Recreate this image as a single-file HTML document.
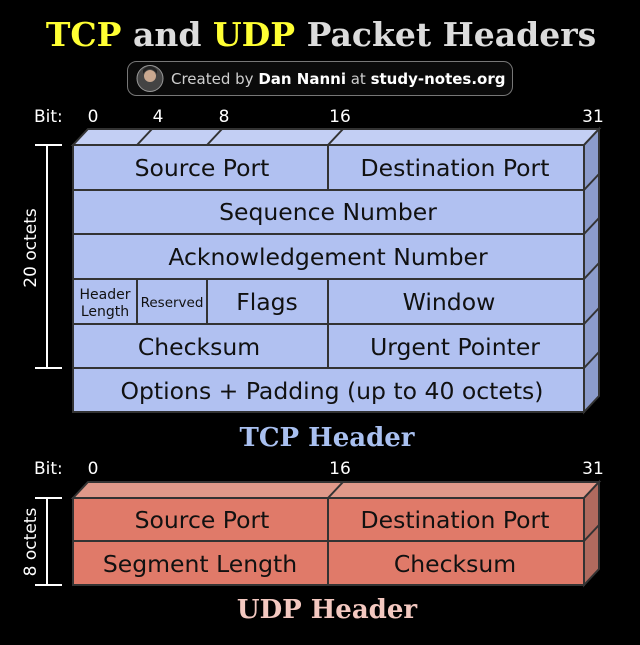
<!DOCTYPE html>
<html><head><meta charset="utf-8"><style>
body{margin:0;background:#000;width:640px;height:640px;overflow:hidden}
text{font-family:"DejaVu Sans","Liberation Sans",sans-serif}
</style></head><body>
<svg width="640" height="640" viewBox="0 0 640 640" xmlns="http://www.w3.org/2000/svg">
<rect width="640" height="640" fill="#000"/>
<text x="321" y="46" text-anchor="middle" font-weight="bold" font-size="33" fill="#dcdcdc" style="font-family:'DejaVu Serif',serif"><tspan fill="#ffff33">TCP</tspan> and <tspan fill="#ffff33">UDP</tspan> Packet Headers</text>
<rect x="127.5" y="61.5" width="385" height="34" rx="9" fill="#0a0a0a" stroke="#777"/>
<circle cx="150" cy="78.5" r="13" fill="#444" stroke="#999"/>
<circle cx="150" cy="76" r="6" fill="#c9a890"/>
<path d="M143 74 q7 -10 14 0 v-4 q-7 -8 -14 0z" fill="#222"/>
<text x="171" y="84" font-size="15" fill="#cfcfcf">Created by <tspan font-weight="bold" fill="#fff">Dan Nanni</tspan> at <tspan font-weight="bold" fill="#fff">study-notes.org</tspan></text>

<g font-size="17" fill="#fff">
<text x="34" y="122">Bit:</text>
<text x="93" y="122" text-anchor="middle">0</text>
<text x="158" y="122" text-anchor="middle">4</text>
<text x="224" y="122" text-anchor="middle">8</text>
<text x="340" y="122" text-anchor="middle">16</text>
<text x="593" y="122" text-anchor="middle">31</text>
</g>
<g stroke="#333" stroke-width="2">
<polygon points="73,145 88,129 599,129 584,145" fill="#c3cff4"/>
<polygon points="584,145 599,129 599,396 584,412" fill="#8c9ccc"/>
<rect x="73" y="145" width="511" height="267" fill="#b1c1f1"/>
<g fill="none">
<line x1="137" y1="145" x2="152" y2="129"/><line x1="207" y1="145" x2="222" y2="129"/><line x1="328" y1="145" x2="343" y2="129"/>
<line x1="73" y1="190" x2="584" y2="190"/><line x1="73" y1="234" x2="584" y2="234"/><line x1="73" y1="279" x2="584" y2="279"/><line x1="73" y1="324" x2="584" y2="324"/><line x1="73" y1="368" x2="584" y2="368"/>
<line x1="328" y1="145" x2="328" y2="190"/><line x1="328" y1="279" x2="328" y2="368"/><line x1="137" y1="279" x2="137" y2="324"/><line x1="207" y1="279" x2="207" y2="324"/>
<line x1="584" y1="190" x2="599" y2="174"/><line x1="584" y1="234" x2="599" y2="218"/><line x1="584" y1="279" x2="599" y2="263"/><line x1="584" y1="324" x2="599" y2="308"/><line x1="584" y1="368" x2="599" y2="352"/>
</g></g>
<g font-size="23.5" fill="#111" text-anchor="middle">
<text x="202" y="176">Source Port</text><text x="455" y="176">Destination Port</text>
<text x="328" y="220">Sequence Number</text>
<text x="328" y="265">Acknowledgement Number</text>
<text x="267" y="310">Flags</text><text x="449" y="310">Window</text>
<text x="199" y="355">Checksum</text><text x="455" y="355">Urgent Pointer</text>
<text x="332" y="399">Options + Padding (up to 40 octets)</text>
<text x="105" y="299" font-size="14">Header</text><text x="105" y="316" font-size="14">Length</text>
<text x="172" y="307" font-size="13.5">Reserved</text>
</g>
<g stroke="#fff" stroke-width="2"><line x1="47" y1="145" x2="47" y2="368"/><line x1="35" y1="145" x2="62" y2="145"/><line x1="35" y1="368" x2="62" y2="368"/></g>
<text transform="translate(36,248) rotate(-90)" text-anchor="middle" font-size="17" fill="#fff">20 octets</text>
<text x="327" y="446" text-anchor="middle" font-size="26" font-weight="bold" fill="#a9c0f0" style="font-family:'DejaVu Serif',serif">TCP Header</text>

<g font-size="17" fill="#fff">
<text x="34" y="474">Bit:</text>
<text x="93" y="474" text-anchor="middle">0</text>
<text x="340" y="474" text-anchor="middle">16</text>
<text x="593" y="474" text-anchor="middle">31</text>
</g>
<g stroke="#333" stroke-width="2">
<polygon points="73,498 88,482 599,482 584,498" fill="#e0998a"/>
<polygon points="584,498 599,482 599,569 584,585" fill="#b06a5e"/>
<rect x="73" y="498" width="511" height="87" fill="#e07a69"/>
<g fill="none"><line x1="328" y1="498" x2="343" y2="482"/><line x1="328" y1="498" x2="328" y2="585"/><line x1="73" y1="541" x2="584" y2="541"/><line x1="584" y1="541" x2="599" y2="525"/></g>
</g>
<g font-size="23.5" fill="#111" text-anchor="middle">
<text x="202" y="528">Source Port</text><text x="455" y="528">Destination Port</text>
<text x="200" y="572">Segment Length</text><text x="455" y="572">Checksum</text>
</g>
<g stroke="#fff" stroke-width="2"><line x1="47" y1="498" x2="47" y2="585"/><line x1="35" y1="498" x2="62" y2="498"/><line x1="35" y1="585" x2="62" y2="585"/></g>
<text transform="translate(36,542) rotate(-90)" text-anchor="middle" font-size="17" fill="#fff">8 octets</text>
<text x="327" y="618" text-anchor="middle" font-size="26" font-weight="bold" fill="#f3c8c0" style="font-family:'DejaVu Serif',serif">UDP Header</text>
</svg>
</body></html>
